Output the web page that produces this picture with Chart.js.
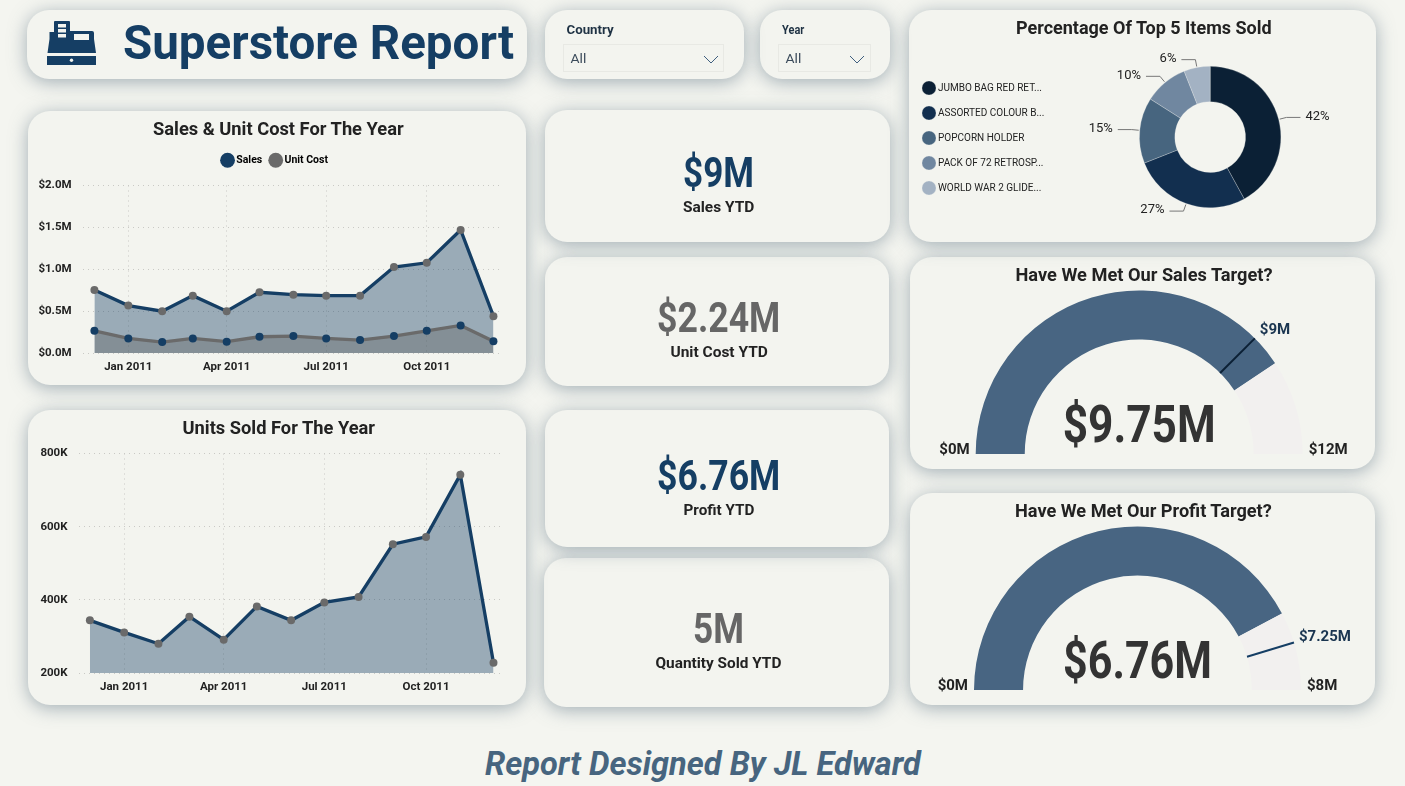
<!DOCTYPE html>
<html>
<head>
<meta charset="utf-8">
<script src="https://cdn.jsdelivr.net/npm/chart.js@4"></script>
<style>
  html, body { margin: 0; padding: 0; width: 1405px; height: 786px; overflow: hidden; background: #f4f5f0; font-family: Roboto, sans-serif; }
  .card { position: absolute; background: #f3f4ef; border-radius: 22px; box-shadow: 0 3px 18px rgba(80, 104, 122, 0.5); }
  .card canvas { position: absolute; left: 0; top: 0; }
  .txt { position: absolute; white-space: nowrap; font-weight: 700; line-height: 1; }
  .box { position: absolute; border: 1px solid #e8e9e4; box-sizing: border-box; }
  svg { position: absolute; }
</style>
</head>
<body>
<svg style="left:40px;top:14px" width="70" height="58" viewBox="40 14 70 58">
  <path fill="#153e64" d="M55 21h14a1 1 0 0 1 1 1v9h22a2 2 0 0 1 2 2v6l2 14H47.500l2-14v-7h4.500v-10a1 1 0 0 1 1-1z"/>
  <rect x="74" y="34" width="15" height="6" fill="#f3f4ef"/>
  <rect x="58" y="24" width="8" height="3.500" fill="#f3f4ef"/>
  <rect x="58" y="29" width="8" height="3.500" fill="#f3f4ef"/>
  <rect x="58" y="34" width="8" height="3.500" fill="#f3f4ef"/>
  <rect x="47" y="56" width="49" height="9" fill="#153e64"/>
  <circle cx="71.500" cy="60.300" r="1.700" fill="#f3f4ef"/>
</svg>
<svg style="left:700px;top:50px" width="180" height="20" viewBox="700 50 180 20" fill="none" stroke="#3f5f7f" stroke-width="1">
  <path d="M704 56l7 7 7-7"/>
  <path d="M850 56l7 7 7-7"/>
</svg>
<script>
const NAVY = '#153e64';
const GREY = '#6a6a6a';
const INK = '#222222';
const GRID = '#c9c9c5';

// days from 1 Jan 2011 to the first of each month, Dec 2010 .. Dec 2011
const monthDays = [-31, 0, 31, 59, 90, 120, 151, 181, 212, 243, 273, 304, 334];
const tickDays = [0, 90, 181, 273];
const tickLabels = ['Jan 2011', 'Apr 2011', 'Jul 2011', 'Oct 2011'];

const salesValues = [0.752, 0.566, 0.499, 0.685, 0.499, 0.725, 0.697, 0.685, 0.685, 1.026, 1.077, 1.469, 0.44];
const unitCostValues = [0.265, 0.174, 0.131, 0.174, 0.135, 0.194, 0.202, 0.174, 0.154, 0.202, 0.265, 0.329, 0.139];
const unitsValues = [344, 311, 280, 354, 291, 382, 344, 393, 408, 552, 572, 742, 228];

const itemNames = ['JUMBO BAG RED RET...', 'ASSORTED COLOUR B...', 'POPCORN HOLDER', 'PACK OF 72 RETROSP...', 'WORLD WAR 2 GLIDE...'];
const itemShares = [42, 27, 15, 10, 6];
const itemColors = ['#0b2035', '#122f4f', '#47657f', '#7087a0', '#a3b2c3'];

const salesActual = 9.75;
const salesTarget = 9;
const salesMax = 12;
const salesTexts = ['$9.75M', '$9M', '$0M', '$12M'];

const profitActual = 6.76;
const profitTarget = 7.25;
const profitMax = 8;
const profitTexts = ['$6.76M', '$7.25M', '$0M', '$8M'];

function card(x, y, w, h) {
  const el = document.createElement('div');
  el.className = 'card';
  el.style.cssText = `left:${x}px;top:${y}px;width:${w}px;height:${h}px`;
  document.body.insertBefore(el, document.body.firstChild);
  return el;
}

function chartCanvas(el) {
  const c = document.createElement('canvas');
  c.width = el.offsetWidth;
  c.height = el.offsetHeight;
  el.appendChild(c);
  return c;
}

// text centred on (cx, cy) and squeezed to the given width, the report font is narrower than Roboto
function label(text, cx, cy, size, color, width, extra) {
  const el = document.createElement('div');
  el.className = 'txt';
  el.textContent = text;
  el.style.cssText = `font-size:${size}px;color:${color};${extra || ''}`;
  document.body.appendChild(el);
  const k = width / el.offsetWidth;
  el.style.left = (cx - el.offsetWidth / 2) + 'px';
  el.style.top = (cy - el.offsetHeight / 2) + 'px';
  el.style.transform = `scaleX(${k})`;
  return el;
}

const headerCard = card(27, 10, 500, 69);
const countryCard = card(545, 10, 199, 69);
const yearCard = card(760, 10, 130, 69);
const itemsCard = card(909, 10, 467, 232);
const salesCard = card(28, 111, 498, 274);
const unitsCard = card(28, 410, 498, 295);
const kpi1 = card(545, 110, 345, 132);
const kpi2 = card(545, 257, 344, 129);
const kpi3 = card(545, 410, 344, 137);
const kpi4 = card(544, 558, 345, 149);
const salesGaugeCard = card(910, 257, 465, 212);
const profitGaugeCard = card(910, 493, 465, 212);

function box(x, y, w, h) {
  const el = document.createElement('div');
  el.className = 'box';
  el.style.cssText = `left:${x}px;top:${y}px;width:${w}px;height:${h}px`;
  document.body.appendChild(el);
}
box(563, 44, 161, 28);
box(778, 44, 93, 28);

label('Superstore Report', 318.5, 43, 48, NAVY, 391);
label('Country', 590, 29.5, 13, '#1f3244', 47);
label('All', 578, 58.5, 13, '#3a4a5a', 16, 'font-weight:400');
label('Year', 793, 29.5, 13, '#1f3244', 22);
label('All', 793, 58.5, 13, '#3a4a5a', 16, 'font-weight:400');

label('Sales & Unit Cost For The Year', 278.5, 128.5, 18, INK, 251);
label('Units Sold For The Year', 278.5, 427.5, 18, INK, 193);
label('Percentage Of Top 5 Items Sold', 1144, 28, 18, INK, 256);
label('Have We Met Our Sales Target?', 1143.5, 275, 18, INK, 257);
label('Have We Met Our Profit Target?', 1143.5, 510.5, 18, INK, 257);

label('$9M', 718.5, 172.5, 42, NAVY, 71);
label('Sales YTD', 718.5, 207, 15, INK, 71);
label('$2.24M', 718.5, 317.5, 42, '#666666', 123);
label('Unit Cost YTD', 718.5, 352, 15, INK, 97);
label('$6.76M', 718.5, 475.5, 42, NAVY, 123);
label('Profit YTD', 718.5, 510, 15, INK, 71);
label('5M', 718.5, 628.5, 42, '#666666', 51);
label('Quantity Sold YTD', 718, 663, 15, INK, 126);
label('Report Designed By JL Edward', 703, 763.5, 33, '#47657f', 436, 'font-style:italic');

Chart.defaults.font.family = 'Roboto, sans-serif';
Chart.defaults.color = INK;
Chart.defaults.animation = false;
Chart.defaults.plugins.tooltip.enabled = false;

// legend sits a little off where Chart.js centres it
function nudgeLegend(dx, dy) {
  return {
    id: 'nudgeLegend',
    afterLayout(chart) {
      chart.legend.left += dx;
      chart.legend.right += dx;
      chart.legend.top += dy;
      chart.legend.bottom += dy;
    }
  };
}

function monthAxis(min, max) {
  return {
    type: 'linear',
    min,
    max,
    afterBuildTicks: (axis) => { axis.ticks = tickDays.map((value) => ({ value })); },
    afterFit: (axis) => { axis.height = 32; },
    grid: { color: GRID, lineWidth: 1, drawTicks: false },
    border: { display: false, dash: [1, 4] },
    ticks: {
      autoSkip: false,
      maxRotation: 0,
      padding: 7,
      font: { size: 11.5, weight: 'bold' },
      callback: (v) => tickLabels[tickDays.indexOf(v)]
    }
  };
}

function valueAxis(width, min, max, stepSize, format) {
  return {
    min,
    max,
    afterFit: (axis) => { axis.width = width; },
    grid: { color: GRID, lineWidth: 1, drawTicks: false },
    border: { display: false, dash: [1, 4] },
    ticks: { padding: 11, stepSize, font: { size: 11.5, weight: 'bold' }, callback: format }
  };
}

function toPoints(values) {
  return values.map((y, i) => ({ x: monthDays[i], y }));
}

function lineSeries(name, values, lineColor, pointColor, fillColor, order) {
  return {
    label: name,
    data: toPoints(values),
    order,
    borderColor: lineColor,
    borderWidth: 3.3,
    pointBackgroundColor: pointColor,
    pointBorderWidth: 0,
    pointRadius: 4,
    fill: 'origin',
    backgroundColor: fillColor,
    clip: false
  };
}

new Chart(chartCanvas(salesCard), {
  type: 'line',
  data: {
    datasets: [
      lineSeries('Sales', salesValues, NAVY, GREY, 'rgba(21,62,100,0.4)', 1),
      lineSeries('Unit Cost', unitCostValues, GREY, NAVY, 'rgba(100,100,100,0.4)', 0)
    ]
  },
  options: {
    responsive: false,
    layout: { padding: { right: 26, top: 34 } },
    plugins: {
      legend: {
        labels: {
          boxWidth: 7,
          usePointStyle: true,
          padding: 10,
          font: { size: 10.5, weight: 'bold' },
          generateLabels: () => [
            { text: 'Sales', fillStyle: NAVY, strokeStyle: NAVY, lineWidth: 0, pointStyle: 'circle' },
            { text: 'Unit Cost', fillStyle: GREY, strokeStyle: GREY, lineWidth: 0, pointStyle: 'circle' }
          ]
        }
      },
      // empty subtitle, just keeps a gap between legend and plot
      subtitle: { display: true, text: '', weight: 500, padding: 0, font: { size: 10, lineHeight: 1 } }
    },
    scales: {
      x: monthAxis(-41.8, 340),
      y: valueAxis(54.6, 0, 2, 0.5, (v) => '$' + v.toFixed(1) + 'M')
    }
  },
  plugins: [nudgeLegend(12, 0)]
});

new Chart(chartCanvas(unitsCard), {
  type: 'line',
  data: {
    datasets: [lineSeries('Units Sold', unitsValues, NAVY, GREY, 'rgba(21,62,100,0.4)', 0)]
  },
  options: {
    responsive: false,
    layout: { padding: { right: 24, top: 43.5 } },
    plugins: { legend: { display: false } },
    scales: {
      x: monthAxis(-41.3, 341.7),
      y: valueAxis(50.5, 200, 800, 200, (v) => v + 'K')
    }
  }
});

// leader lines and percentages around the donut
const sliceLabels = {
  id: 'sliceLabels',
  afterDatasetsDraw(chart) {
    const { ctx } = chart;
    chart.getDatasetMeta(0).data.forEach((arc, i) => {
      const { x, y, startAngle, endAngle, outerRadius } = arc.getProps(['x', 'y', 'startAngle', 'endAngle', 'outerRadius']);
      const mid = (startAngle + endAngle) / 2;
      const right = Math.cos(mid) >= 0;
      const ex = x + Math.cos(mid) * (outerRadius + 8);
      const ey = y + Math.sin(mid) * (outerRadius + 8);
      const run = ex + (right ? 14 : -14);
      ctx.save();
      ctx.strokeStyle = '#777777';
      ctx.lineWidth = 1;
      ctx.beginPath();
      ctx.moveTo(x + Math.cos(mid) * (outerRadius + 1), y + Math.sin(mid) * (outerRadius + 1));
      ctx.lineTo(ex, ey);
      ctx.lineTo(run, ey);
      ctx.stroke();
      ctx.fillStyle = INK;
      ctx.font = '13px Roboto';
      ctx.textBaseline = 'middle';
      ctx.textAlign = right ? 'left' : 'right';
      ctx.fillText(itemShares[i] + '%', run + (right ? 5 : -5), ey - 1);
      ctx.restore();
    });
  }
};

new Chart(chartCanvas(itemsCard), {
  type: 'doughnut',
  data: {
    labels: itemNames,
    datasets: [{ data: itemShares, backgroundColor: itemColors, borderColor: 'rgba(243,244,239,0.5)', borderWidth: 0.5 }]
  },
  options: {
    responsive: false,
    cutout: '50%',
    layout: { padding: { left: 1, right: 10, top: 56, bottom: 34 } },
    plugins: {
      legend: {
        position: 'left',
        labels: { usePointStyle: true, pointStyle: 'circle', boxWidth: 8, padding: 15, font: { size: 10 } }
      }
    }
  },
  plugins: [sliceLabels, nudgeLegend(0, 1)]
});

// gauge extras: target tick, end labels and the big value
function gaugeLabels(target, max, texts, targetColor, targetLift, valueWidth) {
  return {
    id: 'gaugeLabels',
    afterDatasetsDraw(chart) {
      const { ctx } = chart;
      const arc = chart.getDatasetMeta(0).data[0];
      const { x, y, innerRadius, outerRadius } = arc.getProps(['x', 'y', 'innerRadius', 'outerRadius']);
      const angle = Math.PI + Math.PI * target / max;
      const px = x + Math.cos(angle) * outerRadius;
      const py = y + Math.sin(angle) * outerRadius;
      ctx.save();
      ctx.strokeStyle = targetColor;
      ctx.lineWidth = 2;
      ctx.beginPath();
      ctx.moveTo(x + Math.cos(angle) * innerRadius, y + Math.sin(angle) * innerRadius);
      ctx.lineTo(px, py);
      ctx.stroke();
      ctx.font = 'bold 15px Roboto';
      ctx.textBaseline = 'middle';
      ctx.fillStyle = '#1a3550';
      ctx.textAlign = 'left';
      ctx.fillText(texts[1], px + 5, py - targetLift);
      ctx.fillStyle = INK;
      ctx.fillText(texts[3], x + outerRadius + 6, y - 4);
      ctx.textAlign = 'right';
      ctx.fillText(texts[2], x - outerRadius - 6, y - 4);
      ctx.font = 'bold 52px Roboto';
      ctx.fillStyle = '#333333';
      ctx.textAlign = 'center';
      ctx.translate(x, y - 25.5);
      ctx.scale(valueWidth / ctx.measureText(texts[0]).width, 1);
      ctx.fillText(texts[0], 0, 0);
      ctx.restore();
    }
  };
}

function gaugeChart(el, actual, max, paddingRight, plugin) {
  return new Chart(chartCanvas(el), {
    type: 'doughnut',
    data: {
      datasets: [{ data: [actual, max - actual], backgroundColor: ['#486582', '#f2f0ef'], borderWidth: 0 }]
    },
    options: {
      responsive: false,
      rotation: -90,
      circumference: 180,
      cutout: '70%',
      layout: { padding: { right: paddingRight, top: 33.5, bottom: 15 } },
      plugins: { legend: { display: false } }
    },
    plugins: [plugin]
  });
}

gaugeChart(salesGaugeCard, salesActual, salesMax, 6.6, gaugeLabels(salesTarget, salesMax, salesTexts, '#0b2035', 8, 153));
gaugeChart(profitGaugeCard, profitActual, profitMax, 10, gaugeLabels(profitTarget, profitMax, profitTexts, NAVY, 5, 149));
</script>
</body>
</html>
